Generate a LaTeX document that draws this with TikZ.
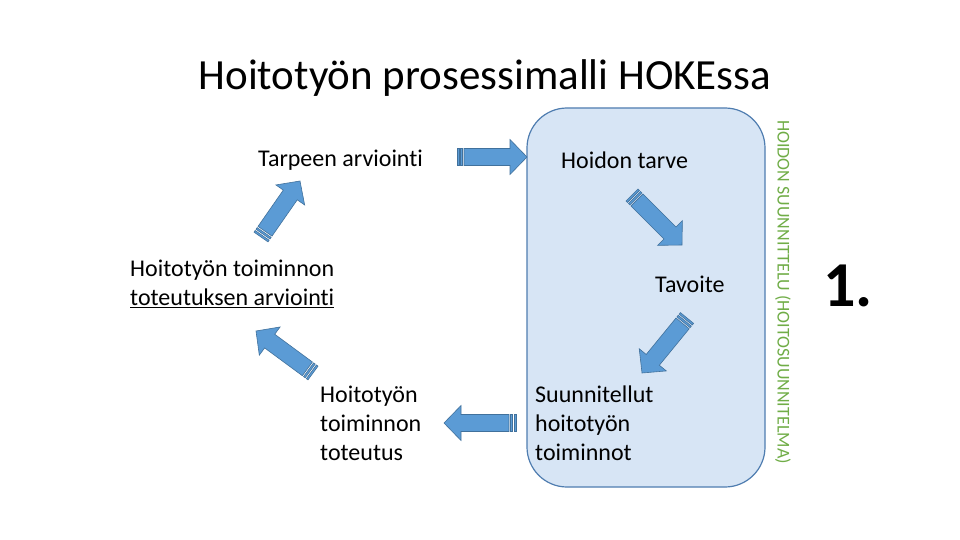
\documentclass[tikz,border=0pt]{standalone}
\usepackage{fontspec}
\setmainfont{Carlito}[Ligatures={NoCommon}]
\usetikzlibrary{calc}
\definecolor{arrfill}{HTML}{5B9BD5}
\definecolor{arrline}{HTML}{41719C}
\definecolor{boxfill}{HTML}{D7E5F5}
\definecolor{boxline}{HTML}{4F7DB0}
\definecolor{sidegreen}{HTML}{70AD47}
\tikzset{
  bodytext/.style={font=\fontsize{24}{29}\selectfont, inner sep=0pt, align=left, text=black},
  blockarr/.style={fill=arrfill, draw=arrline, line width=0.6pt, line join=miter},
}
% striped block arrow from tail #1 to tip #2
\newcommand\blockarrow[2]{%
  \coordinate (ta) at (#1);
  \coordinate (tp) at (#2);
  \coordinate (sa) at ($(ta)!2pt!(tp)$);
  \coordinate (sb) at ($(ta)!3.5pt!(tp)$);
  \coordinate (sc) at ($(ta)!5.5pt!(tp)$);
  \coordinate (bz) at ($(ta)!7pt!(tp)$);
  \coordinate (hb) at ($(tp)!17pt!(ta)$);
  \path[blockarr]
    ($(bz)!8.5pt!90:(tp)$) -- ($(hb)!8.5pt!90:(tp)$) -- ($(hb)!17.5pt!90:(tp)$)
    -- (tp) -- ($(hb)!17.5pt!-90:(tp)$) -- ($(hb)!8.5pt!-90:(tp)$)
    -- ($(bz)!8.5pt!-90:(tp)$) -- cycle;
  \path[blockarr]
    ($(ta)!8.5pt!90:(tp)$) -- ($(sa)!8.5pt!90:(tp)$) -- ($(sa)!8.5pt!-90:(tp)$) -- ($(ta)!8.5pt!-90:(tp)$) -- cycle;
  \path[blockarr]
    ($(sb)!8.5pt!90:(tp)$) -- ($(sc)!8.5pt!90:(tp)$) -- ($(sc)!8.5pt!-90:(tp)$) -- ($(sb)!8.5pt!-90:(tp)$) -- cycle;
}
\begin{document}
\begin{tikzpicture}[x=1pt,y=-1pt]
\useasboundingbox (0,0) rectangle (960,540);
\fill[white] (0,0) rectangle (960,540);

% title
\node[font=\fontsize{43}{50}\selectfont, inner sep=0pt] (title) at (485,78) {Hoitotyön prosessimalli HOKEssa};

% planning box
\draw[fill=boxfill, draw=boxline, line width=1.2pt, rounded corners=40pt] (527,108) rectangle (765,487);
\node[rotate=-90, font=\fontsize{18}{20}\selectfont, text=sidegreen, inner sep=0pt] (side) at (783,292) {HOIDON SUUNNITTELU (HOITOSUUNNITELMA)};

% texts
\node[bodytext, anchor=west] (tarve) at (258,160) {Tarpeen arviointi};
\node[bodytext, anchor=west] (hoidon) at (561,160) {Hoidon tarve};
\node[bodytext, anchor=west] (tavoite) at (655,284) {Tavoite};
\node[bodytext, anchor=west] (eval) at (130,284) {Hoitotyön toiminnon\\\underline{toteutuksen arviointi}};
\node[bodytext, anchor=west] (toteutus) at (320,423) {Hoitotyön\\toiminnon\\toteutus};
\node[bodytext, anchor=west] (suunn) at (535,423) {Suunnitellut\\hoitotyön\\toiminnot};
\node[font=\fontsize{64}{70}\selectfont\bfseries, inner sep=0pt] (one) at (848,286) {1.};

% arrow end points
\coordinate (a1t) at (457,157); \coordinate (a1h) at (527,157);
\coordinate (a2t) at (632,195); \coordinate (a2h) at (682,245);
\coordinate (a3t) at (687,318); \coordinate (a3h) at (642,373);
\coordinate (a4t) at (516,423); \coordinate (a4h) at (444,423);
\coordinate (a5t) at (313,373); \coordinate (a5h) at (256,331);
\coordinate (a6t) at (261,237); \coordinate (a6h) at (300,181);

\blockarrow{a1t}{a1h}
\blockarrow{a2t}{a2h}
\blockarrow{a3t}{a3h}
\blockarrow{a4t}{a4h}
\blockarrow{a5t}{a5h}
\blockarrow{a6t}{a6h}
\end{tikzpicture}
\end{document}
